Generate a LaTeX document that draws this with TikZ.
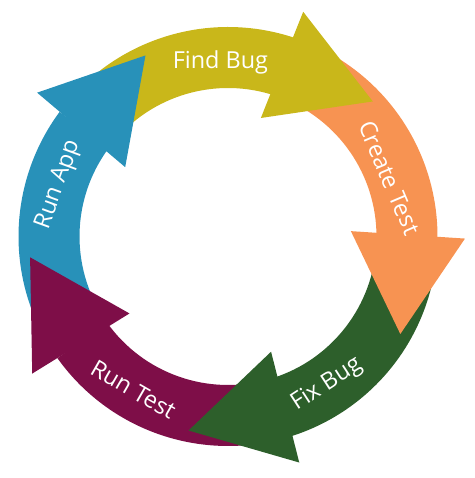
\documentclass[tikz,border=0pt]{standalone}
\usepackage{fontspec}
\setmainfont{Open Sans}
\usepackage{xcolor}
\usepackage{tikz}
\usetikzlibrary{calc}

\definecolor{findcol}{RGB}{201,183,26}
\definecolor{createcol}{RGB}{247,147,82}
\definecolor{fixcol}{RGB}{45,95,43}
\definecolor{runtestcol}{RGB}{126,14,72}
\definecolor{runappcol}{RGB}{40,145,185}

\begin{document}
\begin{tikzpicture}[
  x=0.03cm, y=0.03cm,
  steplbl/.style = {text=white, font=\fontsize{20}{23}\selectfont, inner sep=0pt},
]

\useasboundingbox (-228,-241.5) rectangle (246,236.5);

%% ── Schäfte (Ring, Radien 148.5 / 209.5) ─────────────────────────────────
\fill[findcol]    (141:209.5) arc[start angle=141, end angle=71.5, radius=209.5]
                  -- (71.5:148.5) arc[start angle=71.5, end angle=141, radius=148.5] -- cycle;
\fill[createcol]  (69.5:209.5) arc[start angle=69.5, end angle=-0.5, radius=209.5]
                  -- (-0.5:148.5) arc[start angle=-0.5, end angle=69.5, radius=148.5] -- cycle;
\fill[fixcol]     (-2.5:209.5) arc[start angle=-2.5, end angle=-72.5, radius=209.5]
                  -- (-72.5:148.5) arc[start angle=-72.5, end angle=-2.5, radius=148.5] -- cycle;
\fill[runtestcol] (-74.5:209.5) arc[start angle=-74.5, end angle=-144.5, radius=209.5]
                  -- (-144.5:148.5) arc[start angle=-144.5, end angle=-74.5, radius=148.5] -- cycle;
\fill[runappcol]  (213.5:209.5) arc[start angle=213.5, end angle=143.5, radius=209.5]
                  -- (143.5:148.5) arc[start angle=143.5, end angle=213.5, radius=148.5] -- cycle;

%% ── Pfeilspitzen ─────────────────────────────────────────────────────────
\fill[findcol]    (71.5:237)  -- (43:198)    -- (74.5:123)  -- cycle;
\fill[createcol]  (-0.5:237)  -- (-29.5:198) -- (2.5:123)   -- cycle;
\fill[fixcol]     (-72.5:237) -- (-101.5:198)-- (-69.5:123) -- cycle;
\fill[runtestcol] (215:239)   -- (186:199)   -- (218:125)   -- cycle;
\fill[runappcol]  (143:239)   -- (114.5:199) -- (146:124)   -- cycle;

%% ── Beschriftungen ───────────────────────────────────────────────────────
\node[steplbl, rotate=0]   (findbug)    at (92.5:174)  {Find Bug};
\node[steplbl, rotate=-67] (createtest) at (20:172)    {Create Test};
\node[steplbl, rotate=33]  (fixbug)     at (-56.3:178) {Fix Bug};
\node[steplbl, rotate=-30] (runtest)    at (-121.7:180){Run Test};
\node[steplbl, rotate=70]  (runapp)     at (163:177)   {Run App};

\end{tikzpicture}
\end{document}
